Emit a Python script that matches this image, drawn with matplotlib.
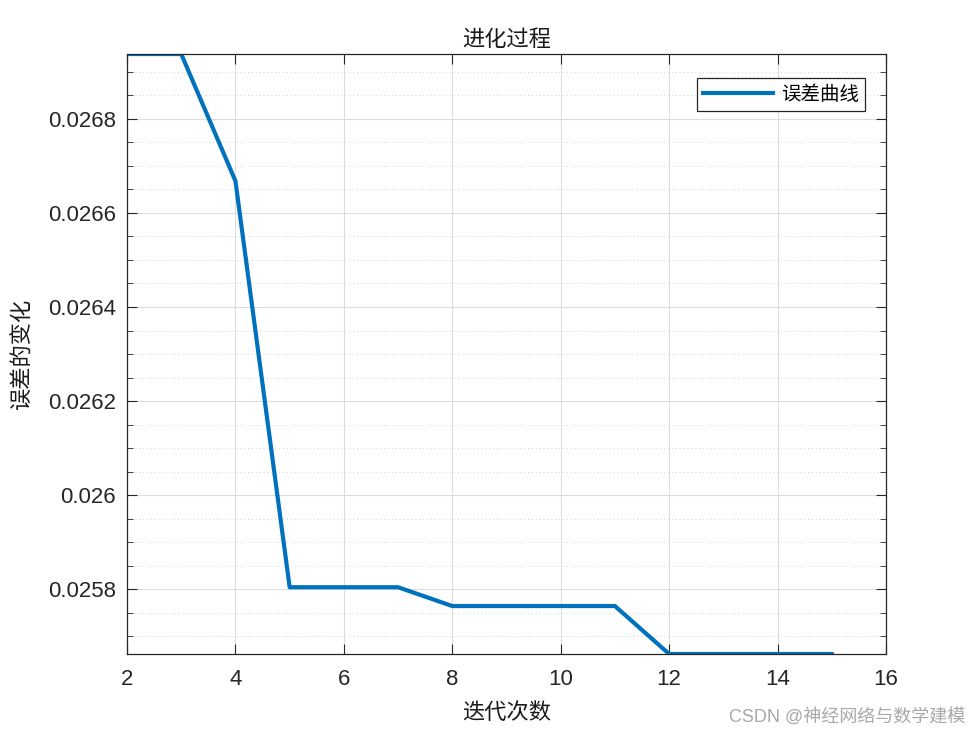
import matplotlib
matplotlib.use('Agg')
import matplotlib.pyplot as plt
from matplotlib.ticker import MultipleLocator

plt.rcParams['font.family'] = ['Liberation Sans', 'Noto Sans CJK SC', 'DejaVu Sans']
CN = ['Noto Sans CJK SC', 'DejaVu Sans']

# 迭代次数与误差
iters = [2, 3, 4, 5, 6, 7, 8, 9, 10, 11, 12, 13, 14, 15]
errs = [0.026938, 0.026938, 0.026668, 0.025804, 0.025804, 0.025804, 0.025764,
        0.025764, 0.025764, 0.025764, 0.025662, 0.025662, 0.025662, 0.025662]

fig = plt.figure(figsize=(9.8, 7.35), dpi=100, facecolor='white')
ax = fig.add_axes([0.1296, 0.1102, 0.7745, 0.8163])
ax.plot(iters, errs, color='#0072BD', lw=3.0, label='误差曲线')

ax.set_xlim(2, 16)
ax.set_ylim(0.025662, 0.026938)
ax.xaxis.set_major_locator(MultipleLocator(2))
ax.yaxis.set_minor_locator(MultipleLocator(0.00005))
ax.set_yticks([0.0258, 0.026, 0.0262, 0.0264, 0.0266, 0.0268])
ax.set_yticklabels(['0.0258', '0.026', '0.0262', '0.0264', '0.0266', '0.0268'])

ax.grid(True, which='major', color='#dcdcdc', lw=0.8)
ax.grid(True, which='minor', axis='y', color='#cfcfcf', lw=0.7, ls=(0, (1, 3)))
ax.set_axisbelow(True)
ax.tick_params(which='both', direction='in', top=True, right=True, labelsize=16, color='#262626', labelcolor='#262626')
ax.tick_params(which='major', length=7)
ax.tick_params(which='minor', length=4)
ax.tick_params(axis='x', which='minor', bottom=False, top=False)
ax.tick_params(axis='x', pad=11)
ax.tick_params(axis='y', pad=8)
for s in ax.spines.values():
    s.set_color('#262626'); s.set_linewidth(0.9)

ax.set_title('进化过程', fontsize=16, family=CN, color='#1a1a1a', pad=6)
ax.set_xlabel('迭代次数', fontsize=16, family=CN, color='#1a1a1a', labelpad=8)
ax.set_ylabel('误差的变化', fontsize=16, family=CN, color='#1a1a1a', labelpad=10)

leg = ax.legend(loc='upper right', bbox_to_anchor=(0.972, 0.96), borderaxespad=0,
                prop={'family': CN, 'size': 14}, fancybox=False, framealpha=1,
                edgecolor='#262626', handlelength=3.6, handletextpad=0.4, borderpad=0.3)
leg.get_frame().set_linewidth(0.9)

fig.text(0.985, 0.012, 'CSDN @神经网络与数学建模', ha='right', va='bottom', fontsize=13,
         color='#a8a8a8', family=['Liberation Sans', 'Noto Sans CJK SC'])

fig.savefig('out.png', dpi=100, facecolor='white')
